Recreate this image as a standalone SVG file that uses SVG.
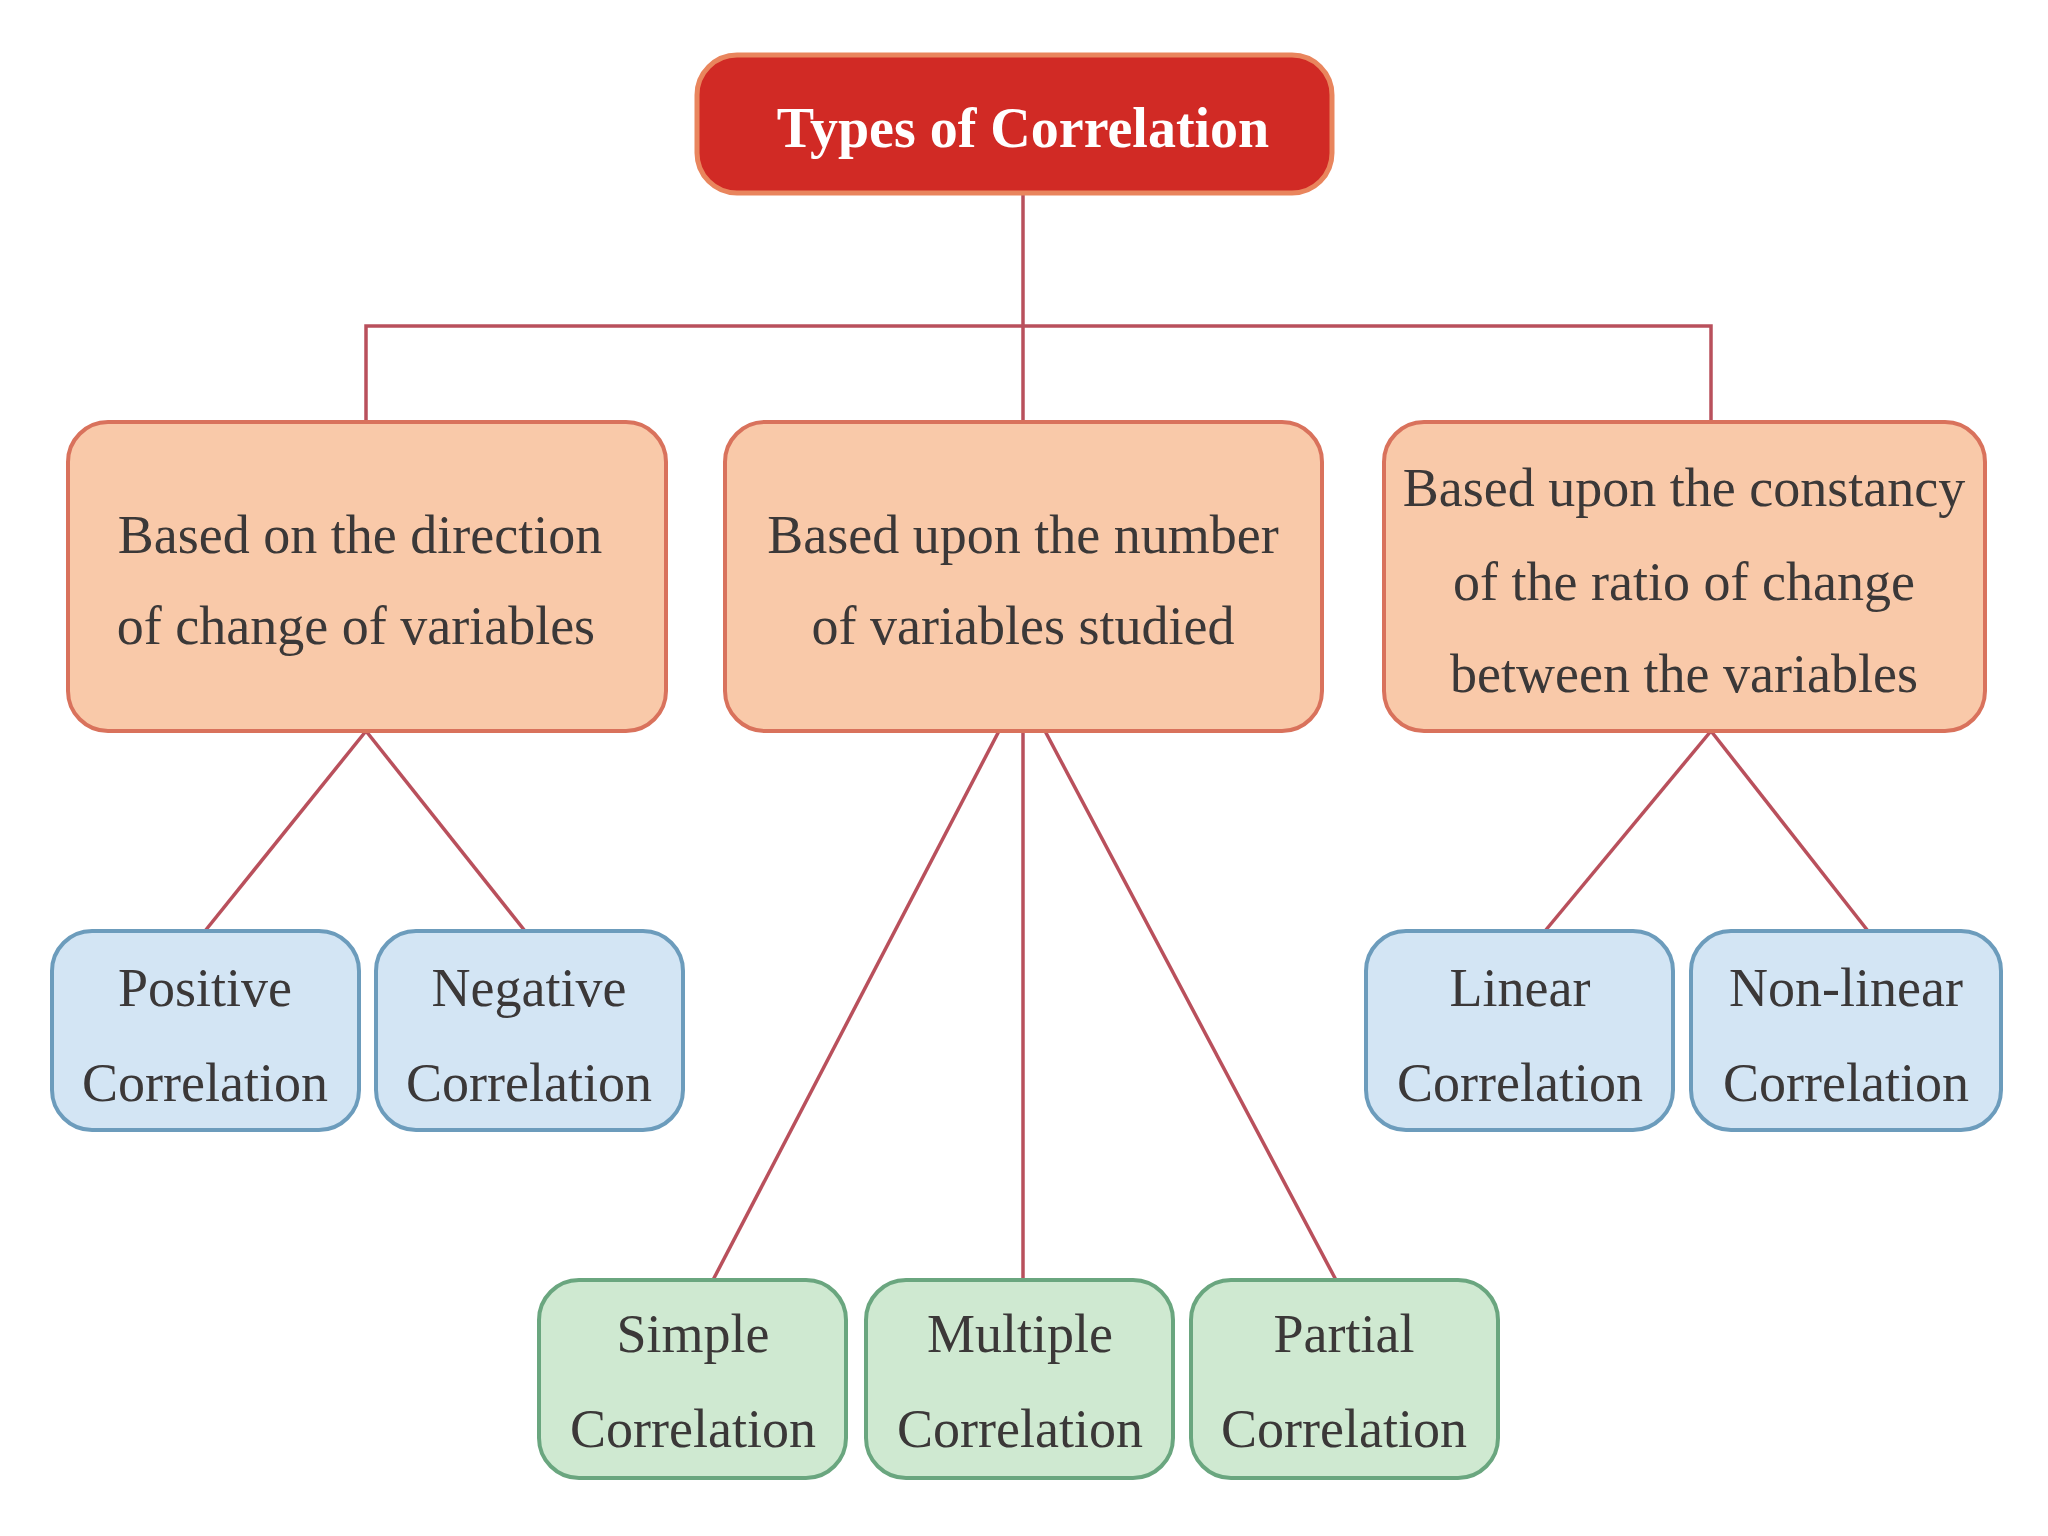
<svg xmlns="http://www.w3.org/2000/svg" width="2048" height="1536" viewBox="0 0 2048 1536">
<style>
text{font-family:"Liberation Serif","DejaVu Serif",serif;fill:#3b3838;text-anchor:middle;font-size:54px}
.cat{fill:#f9c9a9;stroke:#d9725c;stroke-width:4}
.blue{fill:#d3e5f4;stroke:#6c9cbc;stroke-width:4}
.green{fill:#cfe9d1;stroke:#6aa67f;stroke-width:4}
.c line,.c path{stroke:#b9505c;stroke-width:3.5;fill:none}
</style>
<rect width="2048" height="1536" fill="#ffffff"/>
<g class="c" id="connectors">
<line x1="1023" y1="193" x2="1023" y2="422"/>
<path d="M366 422V326H1711V422"/>
<line x1="366" y1="731" x2="205" y2="931"/>
<line x1="366" y1="731" x2="525" y2="931"/>
<line x1="1711" y1="731" x2="1545" y2="931"/>
<line x1="1711" y1="731" x2="1868" y2="931"/>
<line x1="999" y1="731" x2="713" y2="1280"/>
<line x1="1023" y1="731" x2="1023" y2="1280"/>
<line x1="1045" y1="731" x2="1336" y2="1280"/>
</g>
<g id="root"><rect x="697" y="55" width="635" height="138" rx="40" fill="#d12a25" stroke="#e9855d" stroke-width="5"/><text x="1023" y="147" style="fill:#fff;font-weight:bold;font-size:56px">Types of Correlation</text></g>
<g id="dir"><rect class="cat" x="68" y="422" width="598" height="309" rx="40"/><text x="360" y="553">Based on the direction</text><text x="356" y="644">of change of variables</text></g>
<g id="num"><rect class="cat" x="725" y="422" width="597" height="309" rx="40"/><text x="1023" y="553">Based upon the number</text><text x="1023" y="644">of variables studied</text></g>
<g id="const"><rect class="cat" x="1384" y="422" width="601" height="309" rx="40"/><text x="1684" y="506">Based upon the constancy</text><text x="1684" y="600">of the ratio of change</text><text x="1684" y="692">between the variables</text></g>
<g id="pos"><rect class="blue" x="52" y="931" width="307" height="199" rx="40"/><text x="205" y="1006">Positive</text><text x="205" y="1101">Correlation</text></g>
<g id="neg"><rect class="blue" x="376" y="931" width="307" height="199" rx="40"/><text x="529" y="1006">Negative</text><text x="529" y="1101">Correlation</text></g>
<g id="lin"><rect class="blue" x="1366" y="931" width="307" height="199" rx="40"/><text x="1520" y="1006">Linear</text><text x="1520" y="1101">Correlation</text></g>
<g id="nonlin"><rect class="blue" x="1691" y="931" width="310" height="199" rx="40"/><text x="1846" y="1006">Non-linear</text><text x="1846" y="1101">Correlation</text></g>
<g id="simple"><rect class="green" x="539" y="1280" width="307" height="198" rx="40"/><text x="693" y="1352">Simple</text><text x="693" y="1447">Correlation</text></g>
<g id="multiple"><rect class="green" x="866" y="1280" width="307" height="198" rx="40"/><text x="1020" y="1352">Multiple</text><text x="1020" y="1447">Correlation</text></g>
<g id="partial"><rect class="green" x="1191" y="1280" width="307" height="198" rx="40"/><text x="1344" y="1352">Partial</text><text x="1344" y="1447">Correlation</text></g>
</svg>
